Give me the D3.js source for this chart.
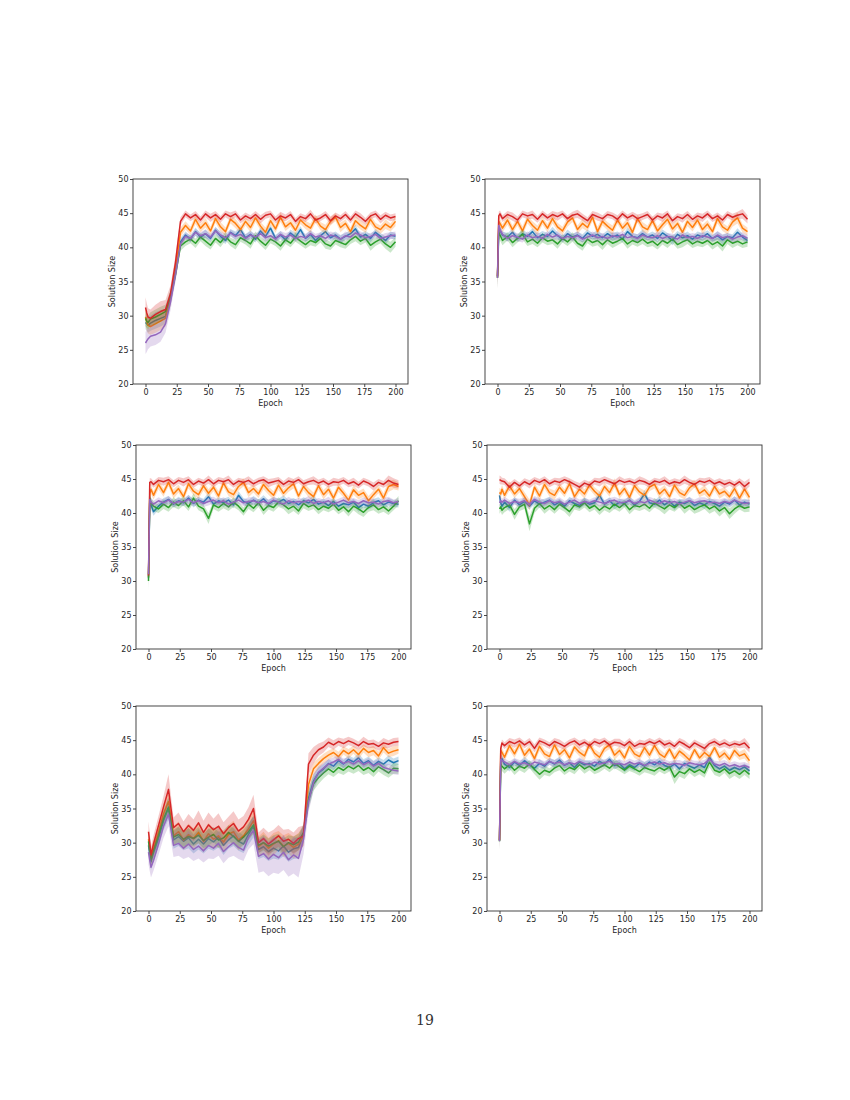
<!DOCTYPE html>
<html>
<head>
<meta charset="utf-8">
<script src="https://cdn.jsdelivr.net/npm/d3@7"></script>
<style>
  body { margin: 0; background: #fff; }
  svg { display: block; }
</style>
</head>
<body>
<svg id="page" width="850" height="1100"></svg>
<script>
const EPOCHS = [0, 1, 2,
  4, 8, 12, 16, 20, 24, 28, 32, 36, 40,
  44, 48, 52, 56, 60, 64, 68, 72, 76, 80,
  84, 88, 92, 96, 100, 104, 108, 112, 116, 120,
  124, 128, 132, 136, 140, 144, 148, 152, 156, 160,
  164, 168, 172, 176, 180, 184, 188, 192, 196, 200];
const X_TICKS = [0, 25, 50, 75, 100, 125, 150, 175, 200];
const Y_TICKS = [20, 25, 30, 35, 40, 45, 50];
const SERIES_COLORS = ['#1f77b4', '#ff7f0e', '#2ca02c', '#d62728', '#9467bd'];

// ---- panel 1 (top left)
const P1_BLUE = [29.0, 28.8, 28.6,
  28.9, 29.3, 29.6, 29.9, 32.6, 36.4, 40.8, 41.8, 41.2, 42.3,
  41.5, 42.0, 41.3, 42.5, 41.6, 41.0, 42.2, 41.7, 42.6, 41.4,
  41.9, 41.2, 42.4, 41.6, 42.8, 41.3, 41.8, 41.1, 42.1, 41.5,
  42.6, 41.3, 41.9, 41.0, 41.7, 42.3, 41.4, 41.8, 41.2, 41.6,
  42.0, 42.7, 41.5, 41.9, 41.3, 42.2, 41.6, 41.0, 41.8, 41.6];
const P1_ORANGE = [29.8, 29.1, 28.6,
  28.4, 28.8, 29.2, 29.6, 32.6, 36.6, 42.2, 43.2, 42.4, 44.1,
  42.8, 43.6, 42.4, 44.2, 43.0, 42.3, 44.1, 43.5, 42.6, 43.8,
  42.9, 44.3, 43.1, 42.2, 43.9, 42.7, 44.4, 43.0, 43.6, 42.5,
  44.0, 43.3, 42.8, 44.2, 43.1, 42.6, 43.8, 44.4, 42.9, 43.5,
  42.3, 43.9, 43.2, 42.7, 44.1, 43.0, 42.6, 43.4, 42.9, 43.8];
const P1_GREEN = [29.6, 29.2, 29.0,
  29.5, 29.8, 30.2, 30.6, 32.8, 36.0, 40.2, 40.8, 41.2, 40.6,
  41.5, 40.9, 40.3, 41.3, 40.7, 41.6, 40.8, 40.4, 41.4, 41.0,
  40.5, 41.7, 40.9, 40.3, 41.2, 40.8, 40.2, 41.1, 40.6, 41.5,
  40.9, 40.4, 41.0, 40.7, 41.3, 40.5, 40.2, 41.0, 40.7, 40.4,
  41.1, 41.6, 40.9, 41.3, 40.3, 40.8, 41.2, 40.5, 40.0, 40.8];
const P1_RED = [31.2, 30.4, 29.8,
  29.6, 30.2, 30.6, 30.9, 33.2, 37.8, 43.8, 44.9, 44.3, 44.8,
  44.0, 44.9, 44.3, 44.8, 44.1, 44.9, 44.5, 44.9, 44.0, 44.6,
  44.2, 44.8, 44.1, 44.7, 44.9, 44.0, 44.6, 44.3, 44.8, 43.8,
  44.5, 44.2, 44.9, 44.0, 44.3, 44.8, 43.9, 44.6, 44.2, 44.8,
  44.0, 44.9, 44.4, 43.8, 44.6, 44.9, 44.1, 44.7, 44.3, 44.5];
const P1_PURPLE = [26.0, 26.3, 26.6,
  27.0, 27.2, 27.6, 28.8, 32.0, 36.0, 40.5, 41.6, 41.3, 42.2,
  41.7, 42.0, 41.5, 42.4, 41.8, 41.4, 42.1, 41.6, 41.9, 41.3,
  41.8, 41.5, 42.0, 41.4, 41.7, 41.2, 41.9, 41.5, 41.8, 41.3,
  41.6, 41.4, 42.0, 41.5, 41.7, 41.3, 41.8, 41.6, 41.2, 41.7,
  41.5, 42.1, 41.8, 41.4, 41.6, 41.9, 41.3, 41.5, 41.7, 41.8];
const P1_BLUE_SD = [1.0, 1.0, 1.1,
  1.1, 1.2, 1.2, 1.1, 1.0, .9, .6, .5, .5, .6,
  .5, .6, .5, .5, .6, .5, .5, .6, .5, .5,
  .6, .5, .5, .6, .5, .5, .6, .5, .5, .6,
  .5, .5, .6, .5, .5, .6, .5, .5, .6, .5,
  .5, .6, .5, .5, .6, .5, .5, .6, .5, .5];
const P1_ORANGE_SD = [1.3, 1.3, 1.2,
  1.2, 1.3, 1.3, 1.2, 1.1, 1.0, .7, .6, .6, .7,
  .6, .7, .6, .6, .7, .6, .6, .7, .6, .6,
  .7, .6, .6, .7, .6, .6, .7, .6, .6, .7,
  .6, .6, .7, .6, .6, .7, .6, .6, .7, .6,
  .6, .7, .6, .6, .7, .6, .6, .7, .6, .7];
const P1_GREEN_SD = [1.1, 1.0, 1.0,
  1.0, 1.1, 1.1, 1.0, 1.0, .9, .7, .6, .6, .7,
  .6, .7, .6, .6, .7, .6, .6, .7, .6, .6,
  .7, .6, .6, .7, .6, .6, .7, .6, .6, .7,
  .6, .6, .7, .6, .6, .7, .6, .6, .7, .6,
  .6, .7, .6, .6, .8, .6, .6, .7, .8, .7];
const P1_RED_SD = [1.5, 1.4, 1.3,
  1.3, 1.4, 1.5, 1.4, 1.2, 1.0, .6, .5, .5, .5,
  .5, .5, .6, .5, .5, .5, .6, .5, .5, .5,
  .5, .5, .6, .5, .5, .5, .6, .5, .5, .5,
  .5, .5, .6, .5, .5, .5, .6, .5, .5, .5,
  .5, .5, .6, .5, .5, .5, .6, .5, .5, .5];
const P1_PURPLE_SD = [1.6, 1.6, 1.5,
  1.5, 1.5, 1.4, 1.3, 1.2, 1.0, .6, .5, .5, .5,
  .5, .6, .5, .5, .5, .6, .5, .5, .5, .6,
  .5, .5, .5, .6, .5, .5, .5, .6, .5, .5,
  .5, .6, .5, .5, .5, .6, .5, .5, .5, .6,
  .5, .5, .5, .6, .5, .5, .5, .6, .5, .5];

// ---- panel 2 (top right)
const P2_BLUE = [35.7, 43.0, 42.5,
  41.8, 41.5, 42.2, 41.3, 42.0, 41.6, 42.3, 41.4, 41.9, 41.6,
  42.4, 41.7, 41.2, 42.0, 41.5, 41.8, 41.3, 42.1, 41.6, 41.9,
  41.4, 42.0, 41.5, 41.8, 41.2, 42.3, 41.6, 41.4, 42.0, 41.5,
  41.8, 41.3, 42.1, 41.6, 41.0, 41.9, 41.4, 41.7, 41.2, 41.8,
  41.5, 42.0, 41.3, 41.7, 41.1, 41.6, 41.4, 42.2, 41.5, 41.0];
const P2_ORANGE = [35.6, 43.8, 43.5,
  42.8, 44.0, 42.6, 43.8, 42.4, 44.1, 43.2, 42.5, 43.9, 42.8,
  44.2, 43.0, 42.4, 43.7, 44.3, 42.6, 43.5, 42.9, 44.4, 42.3,
  43.8, 43.1, 42.5, 44.0, 42.8, 43.6, 42.2, 44.2, 43.0, 42.6,
  43.9, 42.4, 43.3, 44.1, 42.7, 43.5, 42.2, 43.8, 42.9, 44.0,
  42.6, 43.4, 42.3, 44.2, 43.0, 42.5, 43.7, 44.3, 42.8, 42.3];
const P2_GREEN = [35.5, 42.2, 41.8,
  41.0, 41.6, 40.7, 41.3, 41.9, 40.8, 41.2, 40.6, 41.4, 40.9,
  41.1, 40.5, 41.3, 40.8, 41.5, 40.6, 40.2, 41.2, 40.7, 41.0,
  40.4, 41.1, 40.6, 40.9, 41.3, 40.5, 41.0, 40.7, 41.2, 40.6,
  40.9, 40.3, 41.0, 40.6, 41.2, 40.4, 40.8, 41.1, 40.5, 40.9,
  40.6, 41.0, 40.4, 40.8, 40.2, 41.1, 40.6, 40.9, 40.5, 40.8];
const P2_RED = [35.8, 44.6, 44.9,
  44.2, 44.8, 44.5, 44.0, 44.9, 44.6, 44.8, 44.1, 44.9, 44.3,
  44.8, 44.5, 44.9, 44.2, 44.7, 44.9, 44.4, 43.9, 44.8, 44.5,
  44.2, 44.8, 44.6, 44.1, 44.9, 44.3, 44.7, 44.2, 44.5, 44.8,
  44.0, 44.6, 44.3, 44.9, 43.9, 44.5, 44.2, 44.8, 44.1, 44.6,
  44.3, 44.9, 44.2, 44.6, 44.0, 44.8, 44.4, 44.7, 44.9, 44.1];
const P2_PURPLE = [35.5, 43.2, 42.6,
  41.9, 41.3, 41.7, 41.5, 41.2, 41.8, 41.4, 41.6, 41.3, 41.9,
  41.5, 41.8, 41.3, 41.6, 41.4, 41.7, 41.2, 41.5, 41.8, 41.4,
  41.6, 41.3, 41.7, 41.5, 41.9, 41.4, 41.6, 41.3, 41.8, 41.5,
  41.4, 41.7, 41.3, 41.6, 41.5, 41.2, 41.8, 41.4, 41.6, 41.3,
  41.7, 41.5, 41.3, 41.8, 41.4, 41.6, 41.2, 41.5, 41.7, 41.3];
const P2_BLUE_SD = [1.6, .7, .6,
  .5, .6, .5, .5, .6, .5, .5, .6, .5, .5,
  .6, .5, .5, .6, .5, .5, .6, .5, .5, .6,
  .5, .5, .6, .5, .5, .6, .5, .5, .6, .5,
  .5, .6, .5, .5, .7, .5, .5, .6, .5, .5,
  .6, .5, .5, .6, .7, .5, .5, .6, .5, .5];
const P2_ORANGE_SD = [1.6, .7, .7,
  .6, .7, .6, .6, .7, .6, .6, .7, .6, .6,
  .7, .6, .6, .7, .6, .6, .7, .6, .6, .7,
  .6, .6, .7, .6, .6, .7, .6, .6, .7, .6,
  .6, .7, .6, .6, .7, .6, .6, .7, .6, .6,
  .7, .6, .6, .7, .6, .6, .7, .8, .6, .6];
const P2_GREEN_SD = [1.6, .8, .8,
  .7, .6, .7, .6, .7, .6, .7, .6, .7, .6,
  .6, .7, .6, .6, .7, .6, .7, .6, .6, .7,
  .8, .6, .7, .6, .6, .7, .6, .6, .7, .6,
  .7, .6, .6, .7, .6, .6, .8, .6, .6, .7,
  .6, .6, .7, .6, .8, .6, .7, .6, .6, .7];
const P2_RED_SD = [1.6, .6, .5,
  .5, .5, .6, .5, .5, .5, .6, .5, .5, .5,
  .5, .6, .5, .5, .5, .6, .5, .5, .5, .6,
  .5, .5, .5, .6, .5, .5, .5, .6, .5, .5,
  .5, .5, .6, .5, .5, .5, .6, .5, .5, .5,
  .6, .5, .5, .5, .6, .5, .5, .5, .7, .6];
const P2_PURPLE_SD = [1.6, .7, .6,
  .5, .5, .5, .6, .5, .5, .5, .6, .5, .5,
  .5, .6, .5, .5, .5, .6, .5, .5, .5, .6,
  .5, .5, .5, .6, .5, .5, .5, .6, .5, .5,
  .5, .6, .5, .5, .5, .6, .5, .5, .5, .6,
  .5, .5, .5, .6, .5, .5, .5, .6, .5, .5];

// ---- panel 3 (middle left)
const P3_BLUE = [30.4, 41.8, 41.2,
  40.2, 41.0, 41.6, 42.0, 41.3, 41.8, 41.5, 42.2, 41.4, 41.9,
  41.6, 42.4, 41.3, 41.8, 41.5, 41.9, 41.2, 42.6, 41.7, 41.4,
  41.9, 41.5, 42.1, 41.3, 41.8, 41.6, 42.0, 41.4, 41.7, 41.2,
  41.8, 41.5, 42.0, 41.3, 41.6, 41.1, 41.7, 41.0, 41.4, 41.2,
  41.6, 40.8, 41.3, 41.0, 41.5, 41.8, 41.2, 41.6, 41.4, 41.3];
const P3_ORANGE = [30.6, 42.8, 43.5,
  42.6, 44.2, 43.0, 44.5, 42.8, 43.6, 42.4, 44.3, 43.2, 42.7,
  44.0, 42.9, 43.8, 42.5, 44.4, 43.1, 42.7, 43.9, 44.5, 43.0,
  43.6, 42.8, 44.2, 43.3, 42.6, 44.1, 42.9, 43.7, 44.3, 42.5,
  43.9, 43.0, 42.4, 44.0, 42.7, 43.5, 42.2, 43.8, 42.9, 41.9,
  43.4, 42.6, 43.0, 41.8, 42.7, 43.5, 42.2, 43.9, 44.2, 43.9];
const P3_GREEN = [30.0, 42.2, 41.5,
  41.0, 40.6, 41.3, 40.8, 41.6, 41.1, 41.8, 40.9, 42.2, 41.0,
  40.6, 39.2, 41.2, 40.8, 41.4, 40.9, 41.6, 41.0, 40.2, 41.3,
  40.7, 41.5, 40.4, 41.1, 40.8, 41.6, 41.2, 40.6, 41.0, 40.3,
  41.4, 40.9, 41.2, 40.5, 41.0, 40.7, 41.3, 40.4, 40.9, 40.2,
  41.0, 40.6, 40.1, 40.8, 41.2, 40.5, 40.9, 40.3, 41.0, 41.8];
const P3_RED = [30.8, 44.5, 44.6,
  44.2, 44.8, 44.6, 44.9, 44.3, 44.8, 44.5, 44.9, 44.2, 44.7,
  44.4, 44.9, 44.3, 44.8, 44.6, 44.9, 44.2, 44.7, 44.5, 44.8,
  44.3, 44.7, 44.9, 44.4, 44.6, 44.8, 44.2, 44.7, 44.5, 44.9,
  44.3, 44.6, 44.8, 44.4, 44.7, 44.2, 44.6, 44.5, 44.8, 44.3,
  44.6, 44.1, 44.7, 44.4, 43.9, 44.5, 44.2, 44.8, 44.4, 44.2];
const P3_PURPLE = [31.0, 42.0, 41.6,
  41.3, 41.8, 41.5, 41.9, 41.4, 41.7, 41.6, 42.0, 41.5, 41.8,
  41.4, 41.7, 41.9, 41.5, 41.8, 41.3, 41.6, 41.9, 41.5, 41.7,
  41.8, 41.5, 41.7, 41.4, 41.9, 41.6, 41.3, 41.8, 41.5, 41.7,
  41.6, 41.9, 41.4, 41.7, 41.5, 41.8, 41.3, 41.6, 41.9, 41.5,
  41.7, 41.4, 41.8, 41.5, 41.6, 41.3, 41.7, 41.8, 41.5, 41.7];
const P3_BLUE_SD = [1.4, .7, .7,
  .6, .5, .6, .5, .5, .6, .5, .5, .6, .5,
  .5, .6, .5, .5, .6, .5, .5, .6, .5, .5,
  .6, .5, .5, .6, .5, .5, .6, .5, .5, .6,
  .5, .5, .6, .5, .5, .6, .5, .5, .6, .5,
  .5, .6, .5, .5, .6, .5, .5, .6, .5, .5];
const P3_ORANGE_SD = [1.4, .7, .7,
  .6, .7, .6, .6, .7, .6, .6, .7, .6, .6,
  .7, .6, .6, .7, .6, .6, .7, .6, .6, .7,
  .6, .6, .7, .6, .6, .7, .6, .6, .7, .6,
  .6, .7, .6, .6, .7, .6, .6, .7, .6, .6,
  .7, .6, .6, .7, .6, .6, .7, .8, .7, .6];
const P3_GREEN_SD = [1.5, .8, .7,
  .7, .6, .7, .6, .7, .6, .7, .6, .7, .6,
  .6, .8, .6, .6, .7, .6, .7, .6, .6, .7,
  .6, .6, .7, .6, .6, .7, .6, .8, .7, .6,
  .7, .6, .6, .7, .6, .6, .8, .6, .6, .7,
  .6, .8, .7, .6, .8, .6, .7, .6, .6, .7];
const P3_RED_SD = [1.4, .6, .5,
  .5, .5, .6, .5, .5, .5, .6, .5, .5, .5,
  .5, .6, .5, .5, .5, .6, .5, .5, .5, .6,
  .5, .5, .5, .6, .5, .5, .5, .6, .5, .5,
  .5, .5, .6, .5, .5, .5, .6, .5, .5, .5,
  .6, .5, .5, .5, .6, .5, .5, .7, .7, .6];
const P3_PURPLE_SD = [1.4, .7, .6,
  .5, .5, .5, .6, .5, .5, .5, .6, .5, .5,
  .5, .6, .5, .5, .5, .6, .5, .5, .5, .6,
  .5, .5, .5, .6, .5, .5, .5, .6, .5, .5,
  .5, .6, .5, .5, .5, .6, .5, .5, .5, .6,
  .5, .5, .5, .6, .5, .5, .5, .6, .5, .5];

// ---- panel 4 (middle right)
const P4_BLUE = [42.6, 41.5, 41.0,
  41.6, 40.8, 41.9, 41.2, 41.7, 41.0, 41.8, 41.3, 41.6, 41.9,
  41.2, 41.6, 41.0, 41.8, 41.4, 41.1, 41.7, 41.3, 41.5, 42.6,
  41.3, 41.8, 41.1, 41.6, 41.4, 41.9, 41.2, 41.7, 42.8, 41.5,
  41.3, 41.9, 41.2, 41.7, 41.0, 41.6, 41.4, 41.8, 41.1, 41.5,
  41.2, 41.7, 41.4, 41.0, 41.6, 41.3, 41.9, 41.2, 41.6, 41.3];
const P4_ORANGE = [43.0, 42.8, 43.5,
  42.6, 44.0, 42.8, 43.6, 42.4, 41.2, 43.8, 42.5, 44.2, 43.0,
  42.6, 43.8, 42.9, 44.3, 42.4, 43.5, 42.8, 44.1, 43.2, 42.5,
  43.9, 43.0, 44.4, 42.7, 43.6, 42.3, 44.0, 43.1, 42.6, 43.8,
  44.2, 42.8, 43.5, 42.4, 44.1, 43.0, 42.6, 43.7, 44.3, 42.9,
  43.4, 42.5, 43.9, 42.8, 43.2, 42.4, 43.6, 42.2, 43.5, 42.3];
const P4_GREEN = [40.6, 40.9, 40.4,
  40.8, 41.2, 39.8, 40.9, 41.3, 38.4, 40.7, 41.4, 40.6, 41.1,
  40.5, 41.3, 40.8, 40.2, 41.2, 40.9, 41.5, 40.7, 41.1, 40.4,
  41.0, 40.6, 41.3, 40.8, 41.4, 40.5, 41.1, 40.9, 41.3, 40.7,
  41.5, 41.0, 40.6, 41.2, 40.8, 41.4, 40.7, 41.1, 40.5, 40.9,
  41.2, 40.6, 41.0, 40.3, 40.8, 39.9, 40.6, 41.1, 40.7, 40.9];
const P4_RED = [44.9, 44.8, 44.7,
  44.6, 43.8, 44.5, 44.0, 44.6, 44.2, 44.8, 44.5, 44.9, 44.3,
  44.7, 44.5, 44.9, 44.6, 44.2, 43.8, 44.4, 44.1, 44.7, 44.5,
  44.9, 44.6, 44.3, 44.8, 44.5, 44.7, 44.4, 44.8, 44.6, 44.2,
  44.7, 44.5, 44.8, 44.3, 44.6, 44.4, 44.9, 44.5, 44.2, 44.7,
  44.5, 44.8, 44.3, 44.6, 44.2, 44.5, 44.1, 44.6, 43.9, 44.5];
const P4_PURPLE = [41.5, 41.8, 41.6,
  41.9, 41.4, 41.7, 41.5, 41.8, 41.3, 42.0, 41.6, 41.4, 41.8,
  41.5, 41.7, 41.3, 41.6, 41.9, 41.4, 41.7, 41.5, 41.8, 41.6,
  41.4, 41.7, 41.9, 41.5, 41.6, 41.8, 41.4, 41.7, 41.5, 41.9,
  41.6, 41.4, 41.8, 41.5, 41.7, 41.3, 41.6, 41.8, 41.5, 41.7,
  41.8, 41.5, 41.6, 41.4, 41.7, 41.5, 41.9, 41.6, 41.4, 41.5];
const P4_BLUE_SD = [.7, .6, .6,
  .5, .6, .5, .5, .6, .5, .5, .6, .5, .5,
  .6, .5, .5, .6, .5, .5, .6, .5, .5, .6,
  .5, .5, .6, .5, .5, .6, .5, .5, .6, .5,
  .5, .6, .5, .5, .6, .5, .5, .6, .5, .5,
  .6, .5, .5, .6, .5, .5, .6, .5, .5, .6];
const P4_ORANGE_SD = [.7, .7, .6,
  .6, .7, .6, .6, .7, .8, .6, .7, .6, .6,
  .7, .6, .6, .7, .6, .6, .7, .6, .6, .7,
  .6, .6, .7, .6, .6, .7, .6, .6, .7, .6,
  .6, .7, .6, .6, .7, .6, .6, .7, .6, .6,
  .7, .6, .6, .7, .6, .6, .7, .6, .7, .6];
const P4_GREEN_SD = [.7, .7, .7,
  .7, .6, .8, .6, .7, 1.1, .7, .6, .7, .6,
  .6, .7, .6, .8, .7, .6, .7, .6, .6, .7,
  .6, .6, .7, .6, .6, .7, .6, .6, .7, .6,
  .7, .6, .8, .7, .6, .6, .8, .6, .6, .7,
  .6, .7, .7, .8, .6, .8, .7, .6, .6, .7];
const P4_RED_SD = [.6, .6, .5,
  .5, .6, .5, .5, .5, .6, .5, .5, .5, .5,
  .5, .6, .5, .5, .5, .6, .5, .5, .5, .6,
  .5, .5, .5, .6, .5, .5, .5, .6, .5, .5,
  .5, .5, .6, .5, .5, .5, .6, .5, .5, .5,
  .6, .5, .5, .5, .6, .5, .5, .5, .7, .6];
const P4_PURPLE_SD = [.6, .6, .5,
  .5, .5, .5, .6, .5, .5, .5, .6, .5, .5,
  .5, .6, .5, .5, .5, .6, .5, .5, .5, .6,
  .5, .5, .5, .6, .5, .5, .5, .6, .5, .5,
  .5, .6, .5, .5, .5, .6, .5, .5, .5, .6,
  .5, .5, .5, .6, .5, .5, .5, .6, .5, .5];

// ---- panel 5 (bottom left)
const P5_BLUE = [29.6, 28.4, 27.2,
  28.5, 30.6, 33.2, 35.0, 30.4, 30.9, 30.2, 30.7, 29.8, 30.5,
  29.8, 30.6, 30.1, 30.8, 29.6, 30.4, 31.0, 30.2, 29.8, 31.2,
  32.4, 29.0, 29.4, 28.7, 29.2, 28.8, 29.5, 28.6, 29.1, 29.3,
  31.2, 36.5, 39.0, 40.2, 40.8, 41.6, 41.2, 42.0, 41.5, 42.2,
  41.8, 42.4, 41.6, 42.0, 41.3, 41.9, 41.5, 42.1, 41.7, 42.0];
const P5_ORANGE = [30.5, 29.2, 27.8,
  29.0, 31.5, 34.2, 36.0, 31.0, 31.6, 30.4, 31.2, 30.6, 31.5,
  30.2, 31.3, 30.5, 31.0, 30.1, 31.2, 31.6, 30.4, 31.0, 32.0,
  33.2, 29.4, 30.0, 29.2, 29.8, 30.3, 29.5, 29.9, 29.3, 29.8,
  31.0, 38.5, 40.8, 41.6, 42.3, 42.8, 43.2, 42.6, 43.5, 43.0,
  43.6, 42.9, 43.8, 43.2, 43.5, 42.7, 43.9, 43.1, 43.4, 43.6];
const P5_GREEN = [30.2, 28.8, 27.6,
  28.8, 31.0, 33.5, 35.2, 30.8, 31.2, 30.5, 30.9, 30.6, 31.1,
  30.3, 30.8, 31.2, 30.4, 30.7, 31.5, 30.9, 30.2, 30.8, 31.6,
  32.6, 29.6, 30.0, 29.5, 29.9, 30.2, 29.4, 30.0, 29.7, 30.1,
  31.5, 36.2, 38.6, 39.5, 40.2, 40.8, 40.3, 41.0, 40.6, 41.2,
  40.8, 41.3, 40.6, 41.0, 40.4, 41.1, 40.7, 40.2, 40.9, 40.8];
const P5_RED = [31.6, 30.0, 28.2,
  29.8, 32.5, 35.2, 37.8, 32.2, 32.8, 31.6, 32.5, 31.8, 32.9,
  31.5, 32.6, 31.9, 32.4, 31.3, 32.2, 32.8, 31.7, 32.3, 33.4,
  35.0, 30.0, 30.6, 29.8, 30.4, 31.0, 30.2, 30.5, 29.9, 30.6,
  31.0, 41.5, 42.8, 43.6, 44.0, 44.7, 44.3, 44.8, 44.5, 44.9,
  44.6, 44.2, 44.8, 44.4, 44.5, 44.1, 44.6, 44.4, 44.7, 44.8];
const P5_PURPLE = [28.6, 27.4, 26.4,
  27.4, 29.8, 32.4, 34.2, 29.6, 29.9, 29.2, 29.8, 29.0, 29.5,
  28.8, 29.6, 29.2, 29.9, 28.7, 29.4, 30.0, 29.3, 28.9, 30.8,
  31.8, 28.0, 28.4, 27.6, 28.3, 27.8, 28.6, 27.5, 28.2, 27.7,
  30.5, 36.0, 38.8, 40.3, 40.9, 41.5, 41.8, 42.2, 41.6, 41.9,
  41.5, 42.0, 41.4, 41.8, 41.2, 41.6, 41.0, 40.8, 40.6, 40.5];
const P5_BLUE_SD = [1.3, 1.2, 1.2,
  1.2, 1.3, 1.4, 1.6, 1.3, 1.4, 1.3, 1.5, 1.4, 1.5,
  1.4, 1.5, 1.3, 1.5, 1.4, 1.3, 1.5, 1.4, 1.3, 1.5,
  1.6, 1.4, 1.5, 1.4, 1.5, 1.3, 1.5, 1.4, 1.5, 1.6,
  1.4, 1.3, 1.0, .8, .7, .6, .6, .7, .6, .6,
  .6, .7, .6, .6, .7, .6, .6, .7, .6, .6];
const P5_ORANGE_SD = [1.4, 1.3, 1.3,
  1.3, 1.4, 1.5, 1.8, 1.4, 1.5, 1.4, 1.6, 1.5, 1.6,
  1.5, 1.6, 1.4, 1.6, 1.5, 1.4, 1.6, 1.5, 1.4, 1.6,
  1.8, 1.5, 1.6, 1.5, 1.6, 1.4, 1.6, 1.5, 1.6, 1.6,
  1.4, 1.2, .9, .8, .7, .7, .6, .7, .6, .7,
  .6, .7, .6, .7, .7, .6, .7, .6, .7, .6];
const P5_GREEN_SD = [1.1, 1.0, 1.0,
  1.0, 1.1, 1.2, 1.4, 1.1, 1.2, 1.1, 1.2, 1.1, 1.2,
  1.1, 1.2, 1.1, 1.2, 1.1, 1.1, 1.2, 1.1, 1.1, 1.2,
  1.3, 1.1, 1.2, 1.1, 1.2, 1.1, 1.2, 1.1, 1.2, 1.2,
  1.2, 1.3, 1.0, .9, .8, .8, .7, .8, .7, .8,
  .7, .8, .7, .8, .8, .7, .8, .7, .8, .7];
const P5_RED_SD = [1.5, 1.4, 1.2,
  1.3, 1.4, 1.6, 2.2, 1.5, 1.6, 1.5, 1.7, 1.6, 1.8,
  1.7, 1.8, 1.6, 1.9, 1.7, 1.6, 1.8, 1.7, 1.6, 1.8,
  2.0, 1.5, 1.6, 1.7, 1.5, 1.6, 1.7, 1.5, 1.6, 1.7,
  1.5, 1.6, 1.2, .9, .8, .7, .7, .6, .7, .6,
  .6, .6, .7, .6, .6, .6, .7, .6, .6, .6];
const P5_PURPLE_SD = [1.8, 1.6, 1.5,
  1.5, 1.6, 1.7, 1.8, 1.7, 1.8, 1.6, 1.9, 1.7, 1.8,
  1.7, 1.9, 1.6, 1.8, 1.7, 1.6, 1.9, 1.7, 1.6, 1.8,
  2.0, 2.4, 2.6, 2.5, 2.7, 2.4, 2.6, 2.5, 2.7, 2.8,
  2.2, 1.6, 1.2, .9, .8, .7, .7, .6, .7, .6,
  .6, .7, .6, .6, .7, .6, .6, .7, .6, .6];

// ---- panel 6 (bottom right)
const P6_BLUE = [30.3, 42.0, 42.3,
  41.5, 41.0, 41.8, 41.3, 42.0, 41.4, 40.9, 41.6, 41.2, 41.9,
  41.5, 42.1, 41.3, 41.7, 41.0, 41.8, 41.4, 41.6, 41.2, 41.9,
  41.5, 42.2, 41.3, 41.6, 40.8, 41.4, 41.0, 41.6, 41.2, 41.8,
  41.4, 41.9, 41.3, 41.0, 41.5, 40.8, 41.6, 41.2, 40.9, 41.4,
  41.0, 42.5, 41.3, 40.8, 41.2, 40.6, 41.0, 40.7, 41.1, 40.5];
const P6_ORANGE = [30.3, 43.5, 43.2,
  42.5, 44.2, 43.0, 44.4, 42.8, 43.7, 42.3, 44.1, 43.0, 42.6,
  44.3, 42.9, 43.6, 42.4, 44.0, 43.2, 42.7, 44.4, 43.1, 42.5,
  43.8, 44.3, 42.8, 43.5, 42.4, 44.1, 43.0, 42.6, 43.9, 42.8,
  44.2, 43.0, 42.5, 43.7, 42.3, 43.4, 42.8, 42.1, 43.6, 42.4,
  43.2, 42.6, 43.9, 42.5, 43.1, 42.2, 43.5, 42.7, 43.0, 42.0];
const P6_GREEN = [30.2, 41.5, 41.2,
  40.8, 41.4, 40.6, 41.2, 40.9, 41.5, 40.7, 40.0, 40.6, 40.3,
  40.9, 41.3, 40.5, 41.0, 40.7, 41.4, 40.8, 41.2, 40.6, 41.0,
  41.4, 40.9, 41.6, 41.1, 40.6, 41.2, 40.8, 40.4, 41.0, 40.7,
  40.5, 41.0, 40.6, 41.1, 39.6, 40.4, 40.1, 40.8, 40.3, 40.7,
  40.2, 41.8, 40.6, 40.3, 40.8, 40.1, 40.5, 40.0, 40.6, 40.0];
const P6_RED = [30.4, 43.8, 44.6,
  44.2, 44.8, 44.5, 44.9, 44.3, 44.8, 43.8, 44.9, 44.6, 44.2,
  44.8, 44.5, 44.1, 44.6, 44.9, 44.3, 44.7, 44.2, 44.8, 44.5,
  44.9, 44.3, 44.7, 44.6, 44.2, 44.8, 44.1, 44.5, 44.4, 44.8,
  44.5, 44.9, 44.3, 44.6, 44.1, 44.8, 44.4, 43.9, 44.6, 44.2,
  43.8, 44.5, 44.8, 44.3, 44.6, 44.2, 44.5, 44.3, 44.6, 43.8];
const P6_PURPLE = [30.2, 42.2, 42.0,
  41.8, 41.4, 41.9, 41.5, 41.7, 41.3, 41.8, 41.6, 41.4, 41.9,
  41.6, 41.8, 41.4, 41.7, 41.5, 41.9, 41.6, 41.4, 41.8, 41.5,
  41.7, 41.9, 41.5, 41.6, 41.4, 41.8, 41.5, 41.7, 41.3, 41.6,
  41.8, 41.5, 41.7, 41.4, 41.6, 41.5, 41.3, 41.7, 41.5, 41.4,
  41.6, 42.2, 41.5, 41.3, 41.6, 41.2, 41.4, 41.1, 41.3, 41.0];
const P6_BLUE_SD = [1.2, .7, .6,
  .5, .6, .5, .5, .6, .5, .5, .6, .5, .5,
  .6, .5, .5, .6, .5, .5, .6, .5, .5, .6,
  .5, .5, .6, .5, .5, .6, .5, .5, .6, .5,
  .5, .6, .5, .5, .6, .5, .5, .6, .5, .5,
  .6, .5, .5, .6, .5, .5, .6, .5, .5, .6];
const P6_ORANGE_SD = [1.2, .7, .7,
  .6, .7, .6, .6, .7, .6, .6, .7, .6, .6,
  .7, .6, .6, .7, .6, .6, .7, .6, .6, .7,
  .6, .6, .7, .6, .6, .7, .6, .6, .7, .6,
  .6, .7, .6, .6, .7, .6, .6, .7, .6, .6,
  .7, .6, .6, .7, .6, .6, .7, .6, .7, .6];
const P6_GREEN_SD = [1.2, .8, .7,
  .7, .6, .7, .6, .7, .6, .7, .8, .7, .6,
  .6, .7, .6, .6, .7, .6, .7, .6, .6, .7,
  .6, .6, .7, .6, .6, .7, .6, .6, .7, .6,
  .7, .6, .6, .7, 1.0, .7, .8, .6, .7, .7,
  .7, .8, .7, .7, .6, .8, .7, .7, .7, .7];
const P6_RED_SD = [1.2, .6, .5,
  .5, .5, .6, .5, .5, .5, .6, .5, .5, .5,
  .5, .6, .5, .5, .5, .6, .5, .5, .5, .6,
  .5, .5, .5, .6, .5, .5, .5, .6, .5, .5,
  .5, .5, .6, .5, .5, .5, .6, .5, .5, .5,
  .6, .5, .5, .5, .6, .5, .5, .5, .7, .6];
const P6_PURPLE_SD = [1.2, .7, .6,
  .5, .5, .5, .6, .5, .5, .5, .6, .5, .5,
  .5, .6, .5, .5, .5, .6, .5, .5, .5, .6,
  .5, .5, .5, .6, .5, .5, .5, .6, .5, .5,
  .5, .6, .5, .5, .5, .6, .5, .5, .5, .6,
  .5, .5, .5, .6, .5, .5, .5, .6, .5, .5];

const FONT = '"DejaVu Sans", sans-serif';
const TEXT_COLOR = '#262626';
const BAND_OPACITY = 0.25;

// axes boxes on the page (the scan is slightly shifted per row)
const PANELS = [
  { box: { left: 133, right: 408, top: 179, bottom: 384 },
    series: [[P1_BLUE, P1_BLUE_SD], [P1_ORANGE, P1_ORANGE_SD], [P1_GREEN, P1_GREEN_SD], [P1_RED, P1_RED_SD], [P1_PURPLE, P1_PURPLE_SD]] },
  { box: { left: 485, right: 760, top: 179, bottom: 384 },
    series: [[P2_BLUE, P2_BLUE_SD], [P2_ORANGE, P2_ORANGE_SD], [P2_GREEN, P2_GREEN_SD], [P2_RED, P2_RED_SD], [P2_PURPLE, P2_PURPLE_SD]] },
  { box: { left: 136, right: 411, top: 445, bottom: 649 },
    series: [[P3_BLUE, P3_BLUE_SD], [P3_ORANGE, P3_ORANGE_SD], [P3_GREEN, P3_GREEN_SD], [P3_RED, P3_RED_SD], [P3_PURPLE, P3_PURPLE_SD]] },
  { box: { left: 487, right: 762, top: 445, bottom: 649 },
    series: [[P4_BLUE, P4_BLUE_SD], [P4_ORANGE, P4_ORANGE_SD], [P4_GREEN, P4_GREEN_SD], [P4_RED, P4_RED_SD], [P4_PURPLE, P4_PURPLE_SD]] },
  { box: { left: 136, right: 411, top: 706, bottom: 911 },
    series: [[P5_BLUE, P5_BLUE_SD], [P5_ORANGE, P5_ORANGE_SD], [P5_GREEN, P5_GREEN_SD], [P5_RED, P5_RED_SD], [P5_PURPLE, P5_PURPLE_SD]] },
  { box: { left: 487, right: 762, top: 706, bottom: 911 },
    series: [[P6_BLUE, P6_BLUE_SD], [P6_ORANGE, P6_ORANGE_SD], [P6_GREEN, P6_GREEN_SD], [P6_RED, P6_RED_SD], [P6_PURPLE, P6_PURPLE_SD]] }
];

const svg = d3.select('#page');

function drawPanel(panel, idx) {
  const b = panel.box;
  const x = d3.scaleLinear().domain([-10, 210]).range([b.left, b.right]);
  const y = d3.scaleLinear().domain([20, 50]).range([b.bottom, b.top]);

  const g = svg.append('g').attr('class', 'panel');

  svg.append('clipPath').attr('id', `clip${idx}`)
    .append('rect')
    .attr('x', b.left).attr('y', b.top)
    .attr('width', b.right - b.left).attr('height', b.bottom - b.top);

  const plot = g.append('g').attr('clip-path', `url(#clip${idx})`);

  const area = d3.area()
    .x(d => x(d.epoch))
    .y0(d => y(d.mean - d.sd))
    .y1(d => y(d.mean + d.sd));
  const line = d3.line()
    .x(d => x(d.epoch))
    .y(d => y(d.mean));

  panel.series.forEach(([mean, sd], k) => {
    const pts = EPOCHS.map((e, i) => ({ epoch: e, mean: mean[i], sd: sd[i] }));
    plot.append('path')
      .datum(pts)
      .attr('d', area)
      .attr('fill', SERIES_COLORS[k])
      .attr('fill-opacity', BAND_OPACITY)
      .attr('stroke', 'none');
    plot.append('path')
      .datum(pts)
      .attr('d', line)
      .attr('fill', 'none')
      .attr('stroke', SERIES_COLORS[k])
      .attr('stroke-width', 1.5)
      .attr('stroke-linejoin', 'round');
  });

  // axes
  const xAxis = g.append('g')
    .attr('transform', `translate(0,${b.bottom})`)
    .call(d3.axisBottom(x).tickValues(X_TICKS).tickSize(3).tickPadding(2.5));
  const yAxis = g.append('g')
    .attr('transform', `translate(${b.left},0)`)
    .call(d3.axisLeft(y).tickValues(Y_TICKS).tickSize(3).tickPadding(1.5));

  [xAxis, yAxis].forEach(ax => {
    ax.select('.domain').remove();
    ax.selectAll('line').attr('stroke', '#333').attr('stroke-width', 0.9);
    ax.selectAll('text')
      .attr('fill', TEXT_COLOR)
      .style('font-family', FONT)
      .style('font-size', '8px');
  });

  // frame
  g.append('rect')
    .attr('x', b.left).attr('y', b.top)
    .attr('width', b.right - b.left).attr('height', b.bottom - b.top)
    .attr('fill', 'none')
    .attr('stroke', '#333')
    .attr('stroke-width', 0.9);

  g.append('text')
    .attr('x', (b.left + b.right) / 2)
    .attr('y', b.bottom + 22)
    .attr('text-anchor', 'middle')
    .attr('fill', TEXT_COLOR)
    .style('font-family', FONT)
    .style('font-size', '8px')
    .text('Epoch');

  g.append('text')
    .attr('transform', `translate(${b.left - 21},${(b.top + b.bottom) / 2}) rotate(-90)`)
    .attr('text-anchor', 'middle')
    .attr('dominant-baseline', 'middle')
    .attr('fill', TEXT_COLOR)
    .style('font-family', FONT)
    .style('font-size', '8px')
    .text('Solution Size');
}

PANELS.forEach(drawPanel);

// page number
svg.append('text')
  .attr('x', 425)
  .attr('y', 1025)
  .attr('text-anchor', 'middle')
  .attr('fill', '#333')
  .style('font-family', '"DejaVu Serif", "Liberation Serif", serif')
  .style('font-size', '14px')
  .text('19');
</script>
</body>
</html>
